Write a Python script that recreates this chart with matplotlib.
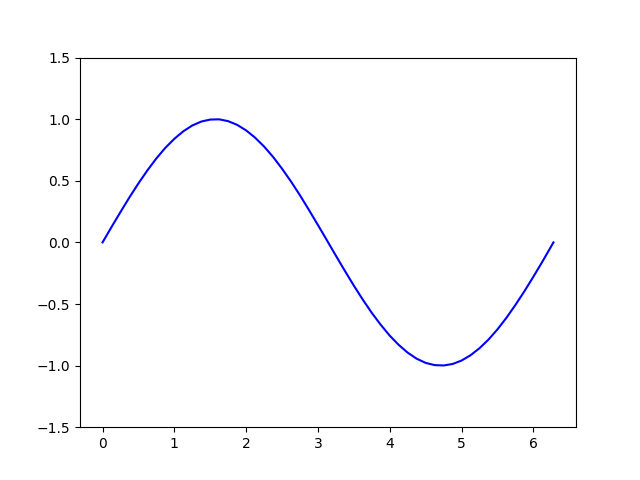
import matplotlib
matplotlib.use("Agg")
import matplotlib.pyplot as plt

# points
x = [0.0, 0.125, 0.25, 0.375, 0.5, 0.625, 0.75, 0.875, 1.0, 1.125, 1.25, 1.375,
     1.5, 1.625, 1.75, 1.875, 2.0, 2.125, 2.25, 2.375, 2.5, 2.625, 2.75, 2.875,
     3.0, 3.125, 3.25, 3.375, 3.5, 3.625, 3.75, 3.875, 4.0, 4.125, 4.25, 4.375,
     4.5, 4.625, 4.75, 4.875, 5.0, 5.125, 5.25, 5.375, 5.5, 5.625, 5.75, 5.875,
     6.0, 6.125, 6.28]
y = [0.000, 0.125, 0.247, 0.366, 0.479, 0.585, 0.682, 0.768, 0.841, 0.902, 0.949, 0.981,
     0.997, 0.999, 0.984, 0.954, 0.909, 0.850, 0.778, 0.694, 0.598, 0.494, 0.382, 0.263,
     0.141, 0.017, -0.108, -0.231, -0.351, -0.465, -0.572, -0.669, -0.757, -0.832, -0.895, -0.944,
     -0.978, -0.996, -0.999, -0.987, -0.959, -0.916, -0.859, -0.789, -0.706, -0.612, -0.508, -0.397,
     -0.279, -0.157, 0.000]

fig, ax = plt.subplots(figsize=(6.4, 4.8), dpi=100)
ax.plot(x, y, color="b")
ax.set_ylim(-1.5, 1.5)
fig.savefig("out.png")
